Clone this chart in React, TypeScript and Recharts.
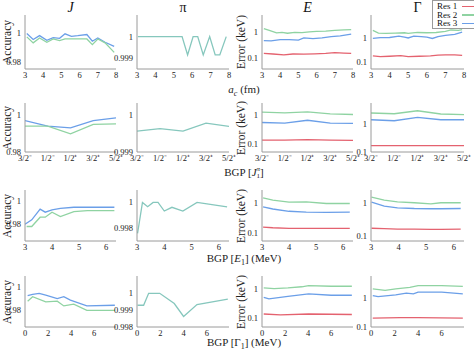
import { LineChart, Line, XAxis, YAxis } from 'recharts';

const RED = '#e4626f';
const GREEN = '#8fd3a2';
const BLUE = '#6b9fe8';
const TEAL = '#86c7bd';
const FRAME = '#9a9a9a';
const SERIF = '"Liberation Serif", "Times New Roman", Times, serif';

// framed plot areas, in page pixels
const COL_LEFT = [25, 137, 262, 371];
const COL_W = [91, 92, 91, 93];
const ROW_TOP = [15, 103, 190, 276];
const ROW_H = [54, 49, 51, 51];

// ---- row 1: channel radius a_c (fm)
const AC_TICKS = [3, 4, 5, 6, 7, 8];
const J_AC_X = [3.1, 3.45, 3.8, 4.2, 4.55, 4.9, 5.2, 5.55, 5.9, 6.4, 6.7, 7.0, 7.4, 7.9];
const J_AC_RES3 = [0.9993, 0.9952, 0.9979, 0.9947, 0.9965, 0.996, 0.9991, 0.9974, 0.9978, 0.9986, 0.994, 0.9963, 0.9933, 0.9905];
const J_AC_RES2 = [0.997, 0.9929, 0.9963, 0.9933, 0.9956, 0.9945, 0.9956, 0.9956, 0.9956, 0.9956, 0.9917, 0.9956, 0.9929, 0.9864];
const PI_AC_X = [3.05, 5.45, 5.75, 6.05, 6.3, 6.6, 6.95, 7.25, 7.5, 7.85];
const PI_AC = [1, 1, 0.99913, 1, 1, 0.99913, 1, 0.99913, 0.99913, 1];
const E_AC_X2 = [3.1, 3.4, 3.8, 4.1, 4.4, 4.8, 5.2, 5.6, 6.0, 6.5, 7.0, 7.5, 7.9];
const E_AC_RES2 = [1.4, 1.2, 0.95, 1.0, 0.92, 1.0, 0.98, 1.05, 1.08, 1.12, 1.2, 1.25, 1.28];
const E_AC_X3 = [3.1, 3.5, 4.0, 4.5, 5.0, 5.3, 5.8, 6.3, 6.8, 7.3, 7.9];
const E_AC_RES3 = [0.47, 0.46, 0.52, 0.52, 0.49, 0.6, 0.56, 0.6, 0.68, 0.72, 0.85];
const E_AC_X1 = [3.1, 3.6, 4.2, 4.7, 5.3, 5.9, 6.5, 7.0, 7.5, 7.9];
const E_AC_RES1 = [0.148, 0.14, 0.13, 0.14, 0.138, 0.142, 0.148, 0.158, 0.152, 0.147];
const G_AC_X2 = [3.1, 3.4, 3.8, 4.3, 4.8, 5.0, 5.5, 6.0, 6.5, 7.0, 7.3, 7.7, 7.9];
const G_AC_RES2 = [2.2, 1.7, 1.65, 1.7, 1.75, 1.65, 1.8, 1.75, 1.8, 2.0, 2.3, 2.2, 2.4];
const G_AC_X3 = [3.1, 3.5, 4.0, 4.5, 4.8, 5.0, 5.3, 5.7, 6.0, 6.3, 6.6, 7.0, 7.5, 7.9];
const G_AC_RES3 = [1.0, 1.08, 1.1, 1.25, 1.15, 1.05, 1.25, 1.2, 1.15, 1.0, 1.2, 1.35, 1.5, 1.85];
const G_AC_X1 = [3.1, 3.5, 4.0, 4.6, 5.0, 5.6, 6.2, 6.6, 7.0, 7.5, 7.9];
const G_AC_RES1 = [0.18, 0.17, 0.175, 0.185, 0.17, 0.175, 0.18, 0.195, 0.2, 0.2, 0.19];

// ---- row 2: background pole spin-parity J1^pi
const SPIN_LABELS = ['3/2⁻', '1/2⁻', '1/2⁺', '3/2⁺', '5/2⁺'];
const SPIN_X = [0, 1, 2, 3, 4];
const J_SP_RES3 = [0.9971, 0.9941, 0.9932, 0.9971, 0.9986];
const J_SP_RES2 = [0.9941, 0.9941, 0.9899, 0.995, 0.9953];
const PI_SP = [0.99957, 0.99964, 0.99957, 0.99979, 0.9997];
const E_SP_RES2 = [1.26, 1.2, 1.29, 1.1, 1.05];
const E_SP_RES3 = [0.56, 0.53, 0.67, 0.53, 0.52];
const E_SP_RES1 = [0.14, 0.14, 0.145, 0.14, 0.138];
const G_SP_RES2 = [2.5, 2.35, 3.0, 2.3, 2.2];
const G_SP_RES3 = [1.43, 1.32, 1.74, 1.43, 1.43];
const G_SP_RES1 = [0.17, 0.17, 0.17, 0.17, 0.168];

// ---- row 3: background pole energy E1 (MeV)
const E1_TICKS = [3, 4, 5, 6];
const J_E1_X3 = [3.0, 3.25, 3.56, 3.75, 4.0, 4.31, 4.81, 6.31];
const J_E1_RES3 = [0.9797, 0.9835, 0.9928, 0.9902, 0.9922, 0.9936, 0.9945, 0.9945];
const J_E1_X2 = [3.06, 3.25, 3.56, 3.75, 4.0, 4.31, 4.81, 5.31, 6.31];
const J_E1_RES2 = [0.9777, 0.9777, 0.9858, 0.9858, 0.9902, 0.9864, 0.9907, 0.9916, 0.9916];
const PI_E1_X = [3.02, 3.2, 3.39, 3.59, 3.77, 4.0, 4.28, 4.68, 5.2, 6.3];
const PI_E1 = [0.99762, 0.99995, 0.99962, 0.99995, 0.99995, 0.9993, 0.99958, 0.9993, 0.99995, 0.99962];
const E_E1_X = [3.04, 3.4, 4.0, 4.64, 5.38, 6.25];
const E_E1_RES2 = [1.48, 1.23, 1.05, 1.07, 0.95, 0.95];
const E_E1_RES3 = [0.73, 0.62, 0.52, 0.49, 0.48, 0.49];
const E_E1_RES1 = [0.153, 0.145, 0.138, 0.138, 0.138, 0.138];
const G_E1_X = [3.02, 3.48, 3.96, 4.57, 5.17, 5.53, 6.25];
const G_E1_RES2 = [1.48, 1.2, 1.07, 1.0, 0.93, 1.0, 1.0];
const G_E1_RES3 = [1.05, 0.79, 0.7, 0.67, 0.66, 0.66, 0.67];
const G_E1_RES1 = [0.17, 0.165, 0.16, 0.16, 0.158, 0.158, 0.16];

// ---- row 4: background pole width Gamma1 (MeV)
const G1_TICKS = [0, 2, 4, 6];
const J_G1_X3 = [0.23, 0.66, 1.23, 1.8, 2.8, 3.37, 3.94, 5.37, 7.8];
const J_G1_RES3 = [0.9926, 0.9937, 0.9946, 0.9932, 0.9901, 0.9917, 0.9887, 0.9836, 0.9842];
const J_G1_X2 = [0.23, 0.66, 1.8, 2.8, 3.37, 4.23, 5.37, 7.8];
const J_G1_RES2 = [0.9878, 0.9917, 0.9872, 0.9878, 0.9836, 0.9851, 0.9797, 0.9797];
const PI_G1_X = [0.05, 0.57, 1.0, 1.95, 3.2, 4.0, 5.15, 7.8];
const PI_G1 = [0.99928, 0.99928, 0.99998, 0.99998, 0.99938, 0.99862, 0.99932, 0.99964];
const E_G1_X2 = [0.15, 1.05, 2.25, 3.45, 4.05, 6.0, 7.8];
const E_G1_RES2 = [1.08, 1.02, 1.08, 1.18, 1.3, 1.23, 1.23];
const E_G1_X3 = [0.15, 0.6, 2.25, 4.05, 6.0, 7.8];
const E_G1_RES3 = [0.51, 0.45, 0.55, 0.67, 0.6, 0.6];
const E_G1_X1 = [0.15, 1.6, 4.05, 7.8];
const E_G1_RES1 = [0.135, 0.125, 0.135, 0.13];
const G_G1_X2 = [0.15, 1.2, 2.1, 3.3, 4.0, 6.0, 7.8];
const G_G1_RES2 = [2.0, 1.77, 2.0, 2.25, 2.6, 2.6, 2.45];
const G_G1_X3 = [0.15, 0.6, 2.1, 3.0, 3.6, 4.0, 6.0, 7.8];
const G_G1_RES3 = [1.18, 1.08, 1.25, 1.43, 1.35, 1.55, 1.55, 1.35];
const G_G1_X1 = [0.15, 2.5, 4.0, 7.8];
const G_G1_RES1 = [0.2, 0.21, 0.21, 0.2];

type Series = { xs: number[]; ys: number[]; color: string };
type PanelProps = {
  row: number;
  col: number;
  xDomain: [number, number];
  xTicks: number[];
  xFmt?: (v: number) => string;
  yDomain: [number, number];
  yTicks: number[];
  log?: boolean;
  series: Series[];
};

const pts = (xs: number[], ys: number[]) => xs.map((x, i) => ({ x, y: ys[i] }));
const fmtNum = (v: number) => String(v);
const tickStyle = { fontSize: 8.5, fill: '#222', fontFamily: SERIF };

function Panel({ row, col, xDomain, xTicks, xFmt, yDomain, yTicks, log, series }: PanelProps) {
  const yw = 34;
  const xh = 14;
  const width = COL_W[col] + yw + 1;
  const height = ROW_H[row] + 1 + xh;
  return (
    <div style={{ position: 'absolute', left: COL_LEFT[col] - yw, top: ROW_TOP[row] - 1 }}>
      <LineChart width={width} height={height} margin={{ top: 1, right: 1, bottom: 0, left: 0 }}>
        <XAxis
          xAxisId="b"
          dataKey="x"
          type="number"
          domain={xDomain}
          ticks={xTicks}
          interval={0}
          allowDataOverflow
          height={xh}
          stroke={FRAME}
          tickLine={false}
          tickSize={2}
          tickMargin={1}
          tick={tickStyle}
          tickFormatter={xFmt ?? fmtNum}
        />
        <XAxis xAxisId="t" orientation="top" type="number" domain={xDomain} allowDataOverflow height={0} tick={false} tickLine={false} stroke={FRAME} />
        <YAxis
          yAxisId="l"
          type="number"
          scale={log ? 'log' : 'auto'}
          domain={yDomain}
          ticks={yTicks}
          interval={0}
          allowDataOverflow
          width={yw}
          stroke={FRAME}
          tickLine={false}
          tickSize={2}
          tickMargin={2}
          tick={tickStyle}
          tickFormatter={fmtNum}
        />
        <YAxis yAxisId="r" orientation="right" type="number" domain={yDomain} allowDataOverflow width={0} tick={false} tickLine={false} stroke={FRAME} />
        {series.map((s, i) => (
          <Line
            key={i}
            xAxisId="b"
            yAxisId="l"
            data={pts(s.xs, s.ys)}
            dataKey="y"
            stroke={s.color}
            strokeWidth={1.3}
            dot={false}
            isAnimationActive={false}
          />
        ))}
      </LineChart>
    </div>
  );
}

const ACC_TICKS = [0.98, 1];
const LOG_TICKS = [0.1, 1];

const rowCenter = (r: number) => ROW_TOP[r] + ROW_H[r] / 2;

function RotLabel({ x, y, text }: { x: number; y: number; text: string }) {
  return (
    <div
      style={{
        position: 'absolute',
        left: x,
        top: y,
        transform: 'translate(-50%, -50%) rotate(-90deg)',
        whiteSpace: 'nowrap',
        fontSize: 11.5,
        lineHeight: '12px',
        color: '#222',
      }}
    >
      {text}
    </div>
  );
}

function XLabel({ y, children }: { y: number; children: React.ReactNode }) {
  return (
    <div
      style={{
        position: 'absolute',
        left: 244,
        top: y,
        transform: 'translate(-50%, -50%)',
        whiteSpace: 'nowrap',
        fontSize: 11,
        lineHeight: '12px',
        color: '#222',
      }}
    >
      {children}
    </div>
  );
}

function Title({ col, children, italic }: { col: number; children: React.ReactNode; italic?: boolean }) {
  return (
    <div
      style={{
        position: 'absolute',
        left: COL_LEFT[col] + COL_W[col] / 2,
        top: 8,
        transform: 'translate(-50%, -50%)',
        fontSize: 14,
        fontStyle: italic ? 'italic' : 'normal',
        color: '#111',
      }}
    >
      {children}
    </div>
  );
}

const LEGEND = [
  { name: 'Res 1', color: RED },
  { name: 'Res 2', color: GREEN },
  { name: 'Res 3', color: BLUE },
];

export default function App() {
  const spinFmt = (v: number) => SPIN_LABELS[v] ?? '';
  return (
    <div
      style={{
        position: 'absolute',
        left: 0,
        top: 0,
        width: 474,
        height: 350,
        overflow: 'hidden',
        background: '#fff',
        fontFamily: SERIF,
      }}
    >
      <style>{`.recharts-surface{overflow:visible}.recharts-text{font-family:${SERIF}}`}</style>
      {/* row 1 */}
      <Panel row={0} col={0} xDomain={[3, 8]} xTicks={AC_TICKS} yDomain={[0.975, 1.012]} yTicks={ACC_TICKS}
        series={[{ xs: J_AC_X, ys: J_AC_RES3, color: BLUE }, { xs: J_AC_X, ys: J_AC_RES2, color: GREEN }]} />
      <Panel row={0} col={1} xDomain={[3, 8]} xTicks={AC_TICKS} yDomain={[0.99846, 1.00103]} yTicks={[0.999, 1]}
        series={[{ xs: PI_AC_X, ys: PI_AC, color: TEAL }]} />
      <Panel row={0} col={2} xDomain={[3, 8]} xTicks={AC_TICKS} yDomain={[0.036, 4.8]} yTicks={LOG_TICKS} log
        series={[{ xs: E_AC_X1, ys: E_AC_RES1, color: RED }, { xs: E_AC_X2, ys: E_AC_RES2, color: GREEN }, { xs: E_AC_X3, ys: E_AC_RES3, color: BLUE }]} />
      <Panel row={0} col={3} xDomain={[3, 8]} xTicks={AC_TICKS} yDomain={[0.05, 10]} yTicks={LOG_TICKS} log
        series={[{ xs: G_AC_X1, ys: G_AC_RES1, color: RED }, { xs: G_AC_X2, ys: G_AC_RES2, color: GREEN }, { xs: G_AC_X3, ys: G_AC_RES3, color: BLUE }]} />

      {/* row 2 */}
      <Panel row={1} col={0} xDomain={[0, 4]} xTicks={SPIN_X} xFmt={spinFmt} yDomain={[0.98, 1.0067]} yTicks={ACC_TICKS}
        series={[{ xs: SPIN_X, ys: J_SP_RES3, color: BLUE }, { xs: SPIN_X, ys: J_SP_RES2, color: GREEN }]} />
      <Panel row={1} col={1} xDomain={[0, 4]} xTicks={SPIN_X} xFmt={spinFmt} yDomain={[0.999, 1.00034]} yTicks={[0.999, 1]}
        series={[{ xs: SPIN_X, ys: PI_SP, color: TEAL }]} />
      <Panel row={1} col={2} xDomain={[0, 4]} xTicks={SPIN_X} xFmt={spinFmt} yDomain={[0.055, 2.6]} yTicks={LOG_TICKS} log
        series={[{ xs: SPIN_X, ys: E_SP_RES1, color: RED }, { xs: SPIN_X, ys: E_SP_RES2, color: GREEN }, { xs: SPIN_X, ys: E_SP_RES3, color: BLUE }]} />
      <Panel row={1} col={3} xDomain={[0, 4]} xTicks={SPIN_X} xFmt={spinFmt} yDomain={[0.1, 5.7]} yTicks={LOG_TICKS} log
        series={[{ xs: SPIN_X, ys: G_SP_RES1, color: RED }, { xs: SPIN_X, ys: G_SP_RES2, color: GREEN }, { xs: SPIN_X, ys: G_SP_RES3, color: BLUE }]} />

      {/* row 3 */}
      <Panel row={2} col={0} xDomain={[3, 6.37]} xTicks={E1_TICKS} yDomain={[0.965, 1.0096]} yTicks={ACC_TICKS}
        series={[{ xs: J_E1_X3, ys: J_E1_RES3, color: BLUE }, { xs: J_E1_X2, ys: J_E1_RES2, color: GREEN }]} />
      <Panel row={2} col={1} xDomain={[3, 6.37]} xTicks={E1_TICKS} yDomain={[0.99705, 1.00088]} yTicks={[0.998, 1]}
        series={[{ xs: PI_E1_X, ys: PI_E1, color: TEAL }]} />
      <Panel row={2} col={2} xDomain={[3, 6.37]} xTicks={E1_TICKS} yDomain={[0.052, 2.7]} yTicks={LOG_TICKS} log
        series={[{ xs: E_E1_X, ys: E_E1_RES1, color: RED }, { xs: E_E1_X, ys: E_E1_RES2, color: GREEN }, { xs: E_E1_X, ys: E_E1_RES3, color: BLUE }]} />
      <Panel row={2} col={3} xDomain={[3, 6.37]} xTicks={E1_TICKS} yDomain={[0.07, 2.43]} yTicks={LOG_TICKS} log
        series={[{ xs: G_E1_X, ys: G_E1_RES1, color: RED }, { xs: G_E1_X, ys: G_E1_RES2, color: GREEN }, { xs: G_E1_X, ys: G_E1_RES3, color: BLUE }]} />

      {/* row 4 */}
      <Panel row={3} col={0} xDomain={[0, 7.9]} xTicks={G1_TICKS} yDomain={[0.965, 1.01]} yTicks={ACC_TICKS}
        series={[{ xs: J_G1_X3, ys: J_G1_RES3, color: BLUE }, { xs: J_G1_X2, ys: J_G1_RES2, color: GREEN }]} />
      <Panel row={3} col={1} xDomain={[0, 7.9]} xTicks={G1_TICKS} yDomain={[0.998, 1.001]} yTicks={[0.998, 0.999, 1]}
        series={[{ xs: PI_G1_X, ys: PI_G1, color: TEAL }]} />
      <Panel row={3} col={2} xDomain={[0, 7.9]} xTicks={G1_TICKS} yDomain={[0.048, 2.78]} yTicks={LOG_TICKS} log
        series={[{ xs: E_G1_X1, ys: E_G1_RES1, color: RED }, { xs: E_G1_X2, ys: E_G1_RES2, color: GREEN }, { xs: E_G1_X3, ys: E_G1_RES3, color: BLUE }]} />
      <Panel row={3} col={3} xDomain={[0, 7.9]} xTicks={G1_TICKS} yDomain={[0.1, 5.5]} yTicks={LOG_TICKS} log
        series={[{ xs: G_G1_X1, ys: G_G1_RES1, color: RED }, { xs: G_G1_X2, ys: G_G1_RES2, color: GREEN }, { xs: G_G1_X3, ys: G_G1_RES3, color: BLUE }]} />

      <Title col={0} italic>J</Title>
      <Title col={1}>π</Title>
      <Title col={2} italic>E</Title>
      <Title col={3}>Γ</Title>

      {[0, 1, 2, 3].map((r) => (
        <RotLabel key={'a' + r} x={7} y={rowCenter(r)} text="Accuracy" />
      ))}
      {[0, 1, 2, 3].map((r) => (
        <RotLabel key={'e' + r} x={241} y={rowCenter(r)} text="Error (keV)" />
      ))}

      <XLabel y={89}>
        <i>a</i>
        <sub style={{ fontSize: 8, lineHeight: 0 }}>
          <i>c</i>
        </sub>{' '}
        (fm)
      </XLabel>
      <XLabel y={173}>
        BGP [<i>J</i>
        <span style={{ display: 'inline-flex', flexDirection: 'column', fontSize: 7, lineHeight: '7px', verticalAlign: 'middle' }}>
          <i>π</i>
          <span>1</span>
        </span>
        ]
      </XLabel>
      <XLabel y={258}>
        BGP [<i>E</i>
        <sub style={{ fontSize: 8, lineHeight: 0 }}>1</sub>] (MeV)
      </XLabel>
      <XLabel y={342}>
        BGP [Γ<sub style={{ fontSize: 8, lineHeight: 0 }}>1</sub>] (MeV)
      </XLabel>

      <div
        style={{
          position: 'absolute',
          left: 432,
          top: 0,
          width: 50,
          height: 26,
          border: `1px solid ${FRAME}`,
          background: '#fff',
          fontSize: 9,
          lineHeight: '8.7px',
          paddingTop: 1,
          color: '#111',
        }}
      >
        {LEGEND.map((item) => (
          <div key={item.name} style={{ display: 'flex', alignItems: 'center', paddingLeft: 4, whiteSpace: 'nowrap' }}>
            <span style={{ width: 25 }}>{item.name}</span>
            <span style={{ width: 12, height: 1.3, background: item.color }} />
          </div>
        ))}
      </div>
    </div>
  );
}
